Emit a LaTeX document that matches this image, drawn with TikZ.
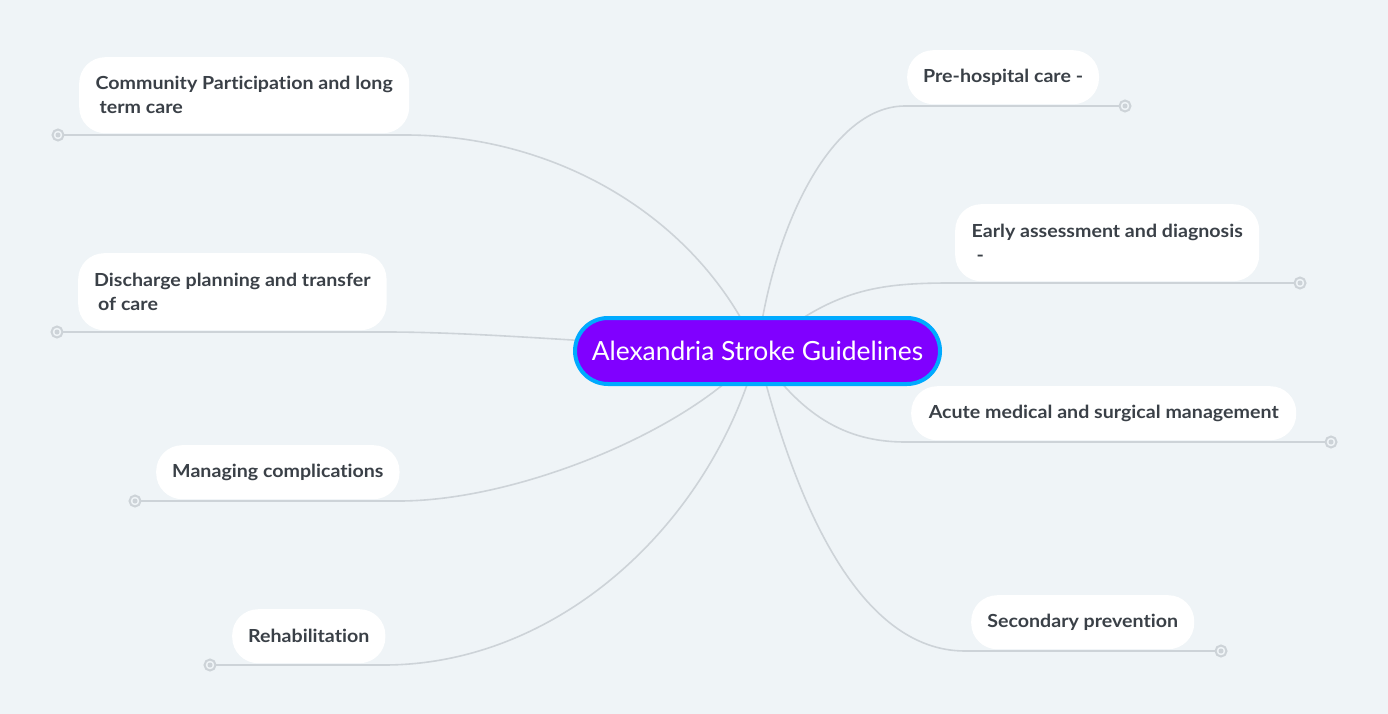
\documentclass[tikz,border=0pt]{standalone}
\usepackage{fontspec}
\setmainfont{Lato}[Ligatures=NoCommon, BoldFeatures={FakeStretch=1.09}]
\usetikzlibrary{calc}

\definecolor{canvas}{HTML}{EFF4F7}
\definecolor{wire}{HTML}{CDD3D8}
\definecolor{ink}{HTML}{3A4047}
\definecolor{hubfill}{HTML}{8000FF}
\definecolor{hubline}{HTML}{00AAFF}

\pgfdeclarelayer{back}
\pgfsetlayers{back,main}

\tikzset{
  topic/.style={fill=white, rounded corners=26pt, anchor=north west, align=left,
    text=ink, font=\bfseries\fontsize{18}{24}\selectfont,
    inner xsep=16pt, inner ysep=0pt, minimum height=54pt},
  hub/.style={fill=hubfill, draw=hubline, line width=4pt, rounded corners=33pt,
    text=white, font=\fontsize{26.4}{30}\selectfont,
    minimum width=365pt, minimum height=66pt},
  branch/.style={draw=wire, line width=1.6pt},
  knob/.style={circle, draw=wire, fill=canvas, line width=2pt,
    inner sep=0pt, minimum size=11pt},
}

\begin{document}
\begin{tikzpicture}[x=1pt, y=-1pt]
  \useasboundingbox (0,0) rectangle (1388,714);
  \begin{pgfonlayer}{back}
    \fill[canvas] (0,0) rectangle (1388,714);
  \end{pgfonlayer}

  %% central topic
  \node[hub] (root) at (757.5,351) {Alexandria Stroke Guidelines};

  %% left branches
  \node[topic, minimum width=330pt, minimum height=76pt] (comm) at (79,57)
    {Community Participation and long\\\hspace{4pt}term care};
  \node[topic, minimum width=308pt, minimum height=77pt] (disch) at (78,253)
    {Discharge planning and transfer\\\hspace{4pt}of care};
  \node[topic, minimum width=243pt] (compl) at (156,445) {Managing complications};
  \node[topic, minimum width=152pt] (rehab) at (232,609) {Rehabilitation};

  %% right branches
  \node[topic, minimum width=191pt] (prehosp) at (907,50) {Pre-hospital care -};
  \node[topic, minimum width=304pt, minimum height=77pt] (early) at (955,204)
    {Early assessment and diagnosis\\\hspace{5pt}-};
  \node[topic, minimum width=385pt] (acute) at (911,386) {Acute medical and surgical management};
  \node[topic, minimum width=223pt] (second) at (971,595) {Secondary prevention};

  %% end points of the branches
  \coordinate (kComm) at (58,135);
  \coordinate (kDisch) at (57,332);
  \coordinate (kCompl) at (135,501);
  \coordinate (kRehab) at (210,665);
  \coordinate (kPre) at (1125,106);
  \coordinate (kEarly) at (1300,283);
  \coordinate (kAcute) at (1331,442);
  \coordinate (kSecond) at (1221,651);

  %% connectors, kept under the nodes
  \begin{pgfonlayer}{back}
    \draw[branch] (kComm) -- (405,135) .. controls (560,135) and (700,220) .. (root.center);
    \draw[branch] (kDisch) -- (386,332) .. controls (480,332) and (600,343) .. (root.center);
    \draw[branch] (kCompl) -- (399,501) .. controls (520,501) and (695,428) .. (root.center);
    \draw[branch] (kRehab) -- (384,665) .. controls (560,665) and (712,522) .. (root.center);
    \draw[branch] (kPre) -- (905,106) .. controls (830,106) and (772,230) .. (root.center);
    \draw[branch] (kEarly) -- (950,283) .. controls (870,283) and (830,292) .. (root.center);
    \draw[branch] (kAcute) -- (905,442) .. controls (845,442) and (800,415) .. (root.center);
    \draw[branch] (kSecond) -- (965,651) .. controls (860,651) and (795,505) .. (root.center);
  \end{pgfonlayer}

  \foreach \k in {kComm,kDisch,kCompl,kRehab,kPre,kEarly,kAcute,kSecond} {
    \node[knob] at (\k) {};
    \fill[wire] (\k) circle (2.5pt);
  }
\end{tikzpicture}
\end{document}
